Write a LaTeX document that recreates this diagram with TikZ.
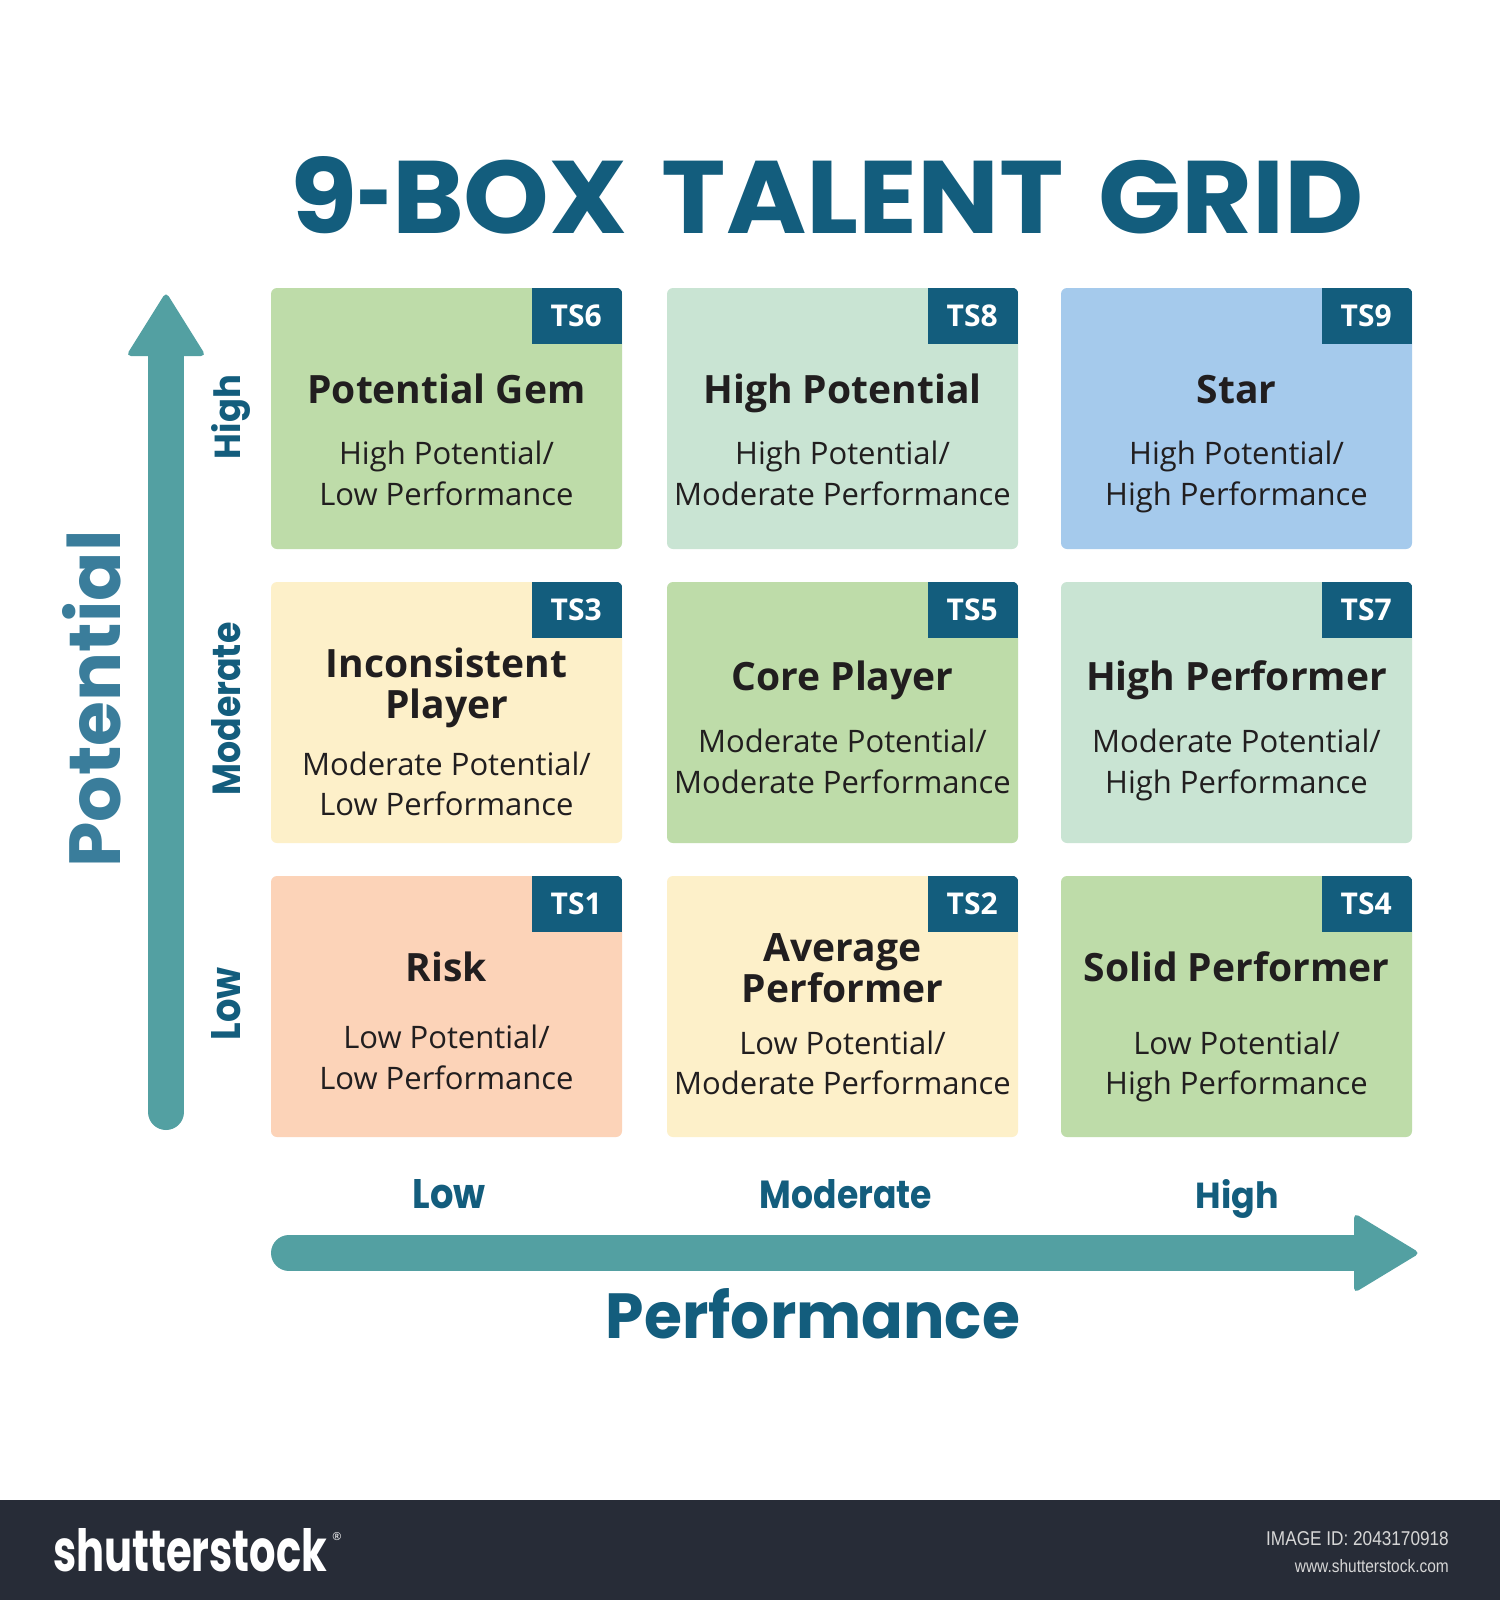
\documentclass[tikz,border=0pt]{standalone}
\usepackage{fontspec}
\usepackage{graphicx}
\setmainfont{Open Sans}
\newfontfamily\popfont{Poppins}
\newfontfamily\narrowfont[FakeStretch=0.86]{Liberation Sans}
\usetikzlibrary{calc}
\definecolor{navy}{HTML}{135D7D}
\definecolor{potcol}{HTML}{3A7D9B}
\definecolor{tealarrow}{HTML}{53A0A2}
\definecolor{cgreen}{HTML}{BEDCA9}
\definecolor{cmint}{HTML}{C9E4D3}
\definecolor{cblue}{HTML}{A5CAEC}
\definecolor{cyellow}{HTML}{FDF0C9}
\definecolor{cpeach}{HTML}{FCD3B8}
\definecolor{ink}{HTML}{211E1F}
\definecolor{barcol}{HTML}{272C37}
\definecolor{bargray}{HTML}{D6D6D6}
\tikzset{
  cellbox/.style={rounded corners=6pt, minimum width=351pt, minimum height=261pt, inner sep=0pt, draw=none},
  badgetxt/.style={text=white, font=\bfseries\fontsize{30}{30}\selectfont, anchor=base, inner sep=0pt},
  ttl/.style={text=ink, font=\bfseries\fontsize{39}{39}\selectfont, anchor=base, inner sep=0pt},
  subl/.style={text=ink, font=\fontsize{31}{31}\selectfont, anchor=base, inner sep=0pt},
  axlab/.style={text=navy, inner sep=0pt},
  arrowshaft/.style={draw=tealarrow, line width=36pt, line cap=round},
  arrowhead/.style={fill=tealarrow, rounded corners=5pt},
}
\newcommand\gridcell[5]{%
  \node[cellbox, fill=#4] (#1) at (#2,#3) {};
  \begin{scope}
    \clip[rounded corners=6pt] (#1.south west) rectangle (#1.north east);
    \fill[navy] (#1.north east) rectangle ++(-90,56);
  \end{scope}
  \node[badgetxt] (#1-b) at ($(#1.north east)+(-46,39)$) {#5};
}
\begin{document}
\begin{tikzpicture}[x=1pt,y=-1pt]
\useasboundingbox (0,0) rectangle (1500,1600);
\fill[white] (0,0) rectangle (1500,1600);

% title
\node[inner sep=0pt, text=navy] (title) at (827,195) {\resizebox{1073pt}{77pt}{\popfont\bfseries 9\scalebox{0.55}[1]{-}BOX\hspace{0.1em} TALENT\hspace{0.1em} GRID}};

% cells
\gridcell{c6}{446.5}{418.5}{cgreen}{TS6}
\gridcell{c8}{842.5}{418.5}{cmint}{TS8}
\gridcell{c9}{1236.5}{418.5}{cblue}{TS9}
\gridcell{c3}{446.5}{712.5}{cyellow}{TS3}
\gridcell{c5}{842.5}{712.5}{cgreen}{TS5}
\gridcell{c7}{1236.5}{712.5}{cmint}{TS7}
\gridcell{c1}{446.5}{1006.5}{cpeach}{TS1}
\gridcell{c2}{842.5}{1006.5}{cyellow}{TS2}
\gridcell{c4}{1236.5}{1006.5}{cgreen}{TS4}

% row 1 texts
\node[ttl] (c6-t) at (446.5,403) {Potential Gem};
\node[subl] (c6-s1) at (446.5,464) {High Potential/};
\node[subl] (c6-s2) at (446.5,505) {Low Performance};
\node[ttl] (c8-t) at (842.5,403) {High Potential};
\node[subl] (c8-s1) at (842.5,464) {High Potential/};
\node[subl] (c8-s2) at (842.5,505) {Moderate Performance};
\node[ttl] (c9-t) at (1236.5,403) {Star};
\node[subl] (c9-s1) at (1236.5,464) {High Potential/};
\node[subl] (c9-s2) at (1236.5,505) {High Performance};

% row 2 texts
\node[ttl] (c3-t1) at (446.5,677) {Inconsistent};
\node[ttl] (c3-t2) at (446.5,718) {Player};
\node[subl] (c3-s1) at (446.5,775) {Moderate Potential/};
\node[subl] (c3-s2) at (446.5,815) {Low Performance};
\node[ttl] (c5-t) at (842.5,690) {Core Player};
\node[subl] (c5-s1) at (842.5,752) {Moderate Potential/};
\node[subl] (c5-s2) at (842.5,793) {Moderate Performance};
\node[ttl] (c7-t) at (1236.5,690) {High Performer};
\node[subl] (c7-s1) at (1236.5,752) {Moderate Potential/};
\node[subl] (c7-s2) at (1236.5,793) {High Performance};

% row 3 texts
\node[ttl] (c1-t) at (446.5,981) {Risk};
\node[subl] (c1-s1) at (446.5,1048) {Low Potential/};
\node[subl] (c1-s2) at (446.5,1089) {Low Performance};
\node[ttl] (c2-t1) at (842.5,961) {Average};
\node[ttl] (c2-t2) at (842.5,1002) {Performer};
\node[subl] (c2-s1) at (842.5,1054) {Low Potential/};
\node[subl] (c2-s2) at (842.5,1094) {Moderate Performance};
\node[ttl] (c4-t) at (1236.5,981) {Solid Performer};
\node[subl] (c4-s1) at (1236.5,1054) {Low Potential/};
\node[subl] (c4-s2) at (1236.5,1094) {High Performance};

% vertical axis arrow
\coordinate (vbot) at (166,1112);
\coordinate (vtop) at (166,352);
\draw[arrowshaft] (vbot) -- (vtop);
\fill[arrowhead] (126,356) -- (166,292) -- (206,356) -- cycle;

% horizontal axis arrow
\coordinate (hl) at (289,1253);
\coordinate (hr) at (1358,1253);
\draw[arrowshaft] (hl) -- (hr);
\fill[arrowhead] (1354,1213) -- (1420,1253) -- (1354,1293) -- cycle;

% axis titles
\node[inner sep=0pt, text=potcol, rotate=90] (potential) at (92,699) {\resizebox{337pt}{58pt}{\popfont\bfseries Potential}};
\node[inner sep=0pt, text=navy] (performance) at (813,1314) {\resizebox{414pt}{50pt}{\popfont\bfseries Performance}};

% vertical level labels
\node[axlab, rotate=90, anchor=base] (vhigh) at (240,417) {\resizebox{84pt}{29pt}{\popfont\bfseries High}};
\node[axlab, rotate=90, anchor=base] (vmod) at (240,709) {\resizebox{173pt}{29pt}{\popfont\bfseries Moderate}};
\node[axlab, rotate=90, anchor=base] (vlow) at (240,1004) {\resizebox{73pt}{29pt}{\popfont\bfseries Low}};

% horizontal level labels
\node[axlab, anchor=base] (hlow) at (449,1208) {\resizebox{73pt}{29pt}{\popfont\bfseries Low}};
\node[axlab, anchor=base] (hmod) at (846,1208) {\resizebox{172pt}{29pt}{\popfont\bfseries Moderate}};
\node[axlab, anchor=base] (hhigh) at (1237,1208) {\resizebox{83pt}{29pt}{\popfont\bfseries High}};

% bottom bar
\fill[barcol] (0,1500) rectangle (1500,1600);
\node[anchor=base west, inner sep=0pt, text=white] (logo) at (53,1571) {\resizebox{274pt}{43pt}{\popfont\bfseries shutterstock}};
\node[inner sep=0pt, text=white, font=\fontsize{11}{11}\selectfont] (reg) at (337,1537) {®};
\node[anchor=base east, inner sep=0pt, text=bargray, font=\narrowfont\fontsize{20}{20}\selectfont] (imgid) at (1449,1545) {IMAGE ID: 2043170918};
\node[anchor=base east, inner sep=0pt, text=bargray, font=\narrowfont\fontsize{18}{18}\selectfont] (www) at (1449,1572) {www.shutterstock.com};
\end{tikzpicture}
\end{document}
